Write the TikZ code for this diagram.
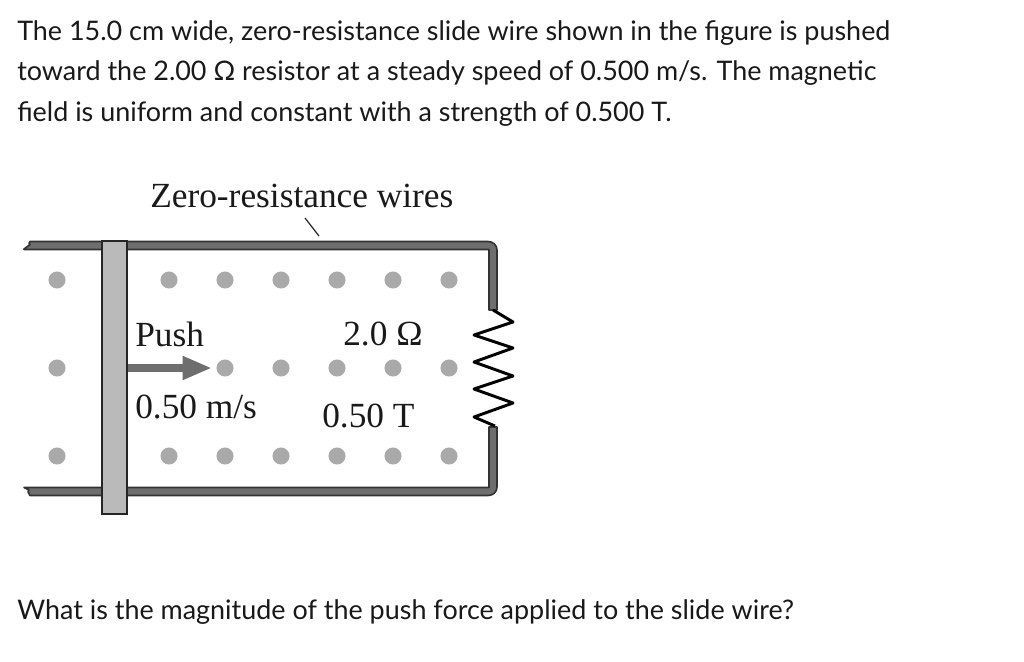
\documentclass[tikz,border=0pt]{standalone}
\usepackage{fontspec}
\setmainfont{Lato}
\newfontfamily\figfont{Liberation Serif}
\usetikzlibrary{arrows.meta}
\definecolor{wiregray}{HTML}{6E6E6E}
\definecolor{slidegray}{HTML}{BABABA}
\definecolor{dotgray}{HTML}{A9A9A9}
\tikzset{
  % Question text
  qtext/.style={anchor=base west, inner sep=0pt, font=\fontsize{20.2}{24}\selectfont, text=black!90},
  % Label in the figure
  flabel/.style={anchor=base west, inner sep=0pt, font=\figfont\fontsize{26.5}{30}\selectfont, text=black!90},
  % Field dots
  fdot/.style={circle, fill=dotgray, minimum size=12.8pt, inner sep=0pt},
  % Rails
  rail/.style={draw=black!80, fill=wiregray, line width=1.2pt, line join=round},
  % Slide wire
  slider/.style={draw=black!85, fill=slidegray, line width=0.9pt, minimum width=18.75pt, minimum height=204.75pt, inner sep=0pt},
  % Push arrow
  pusharrow/.style={draw=wiregray, line width=6pt, -{Triangle[length=22pt, width=16.5pt]}},
  % Resistor
  zigzag/.style={draw=black, line width=2.2pt, line join=round},
}
\begin{document}
\begin{tikzpicture}[x=0.75pt, y=-0.75pt]
  \useasboundingbox (0,0) rectangle (1024,661);

  \node[qtext] (line1) at (17,40) {The 15.0 cm wide, zero-resistance slide wire shown in the figure is pushed};
  \node[qtext] (line2) at (17,80) {toward the 2.00 Ω resistor at a steady speed of 0.500 m/s. The magnetic};
  \node[qtext] (line3) at (17,121) {field is uniform and constant with a strength of 0.500 T.};
  \node[qtext] (question) at (17,619) {What is the magnitude of the push force applied to the slide wire?};

  % rails
  \draw[rail] (30,241.5) -- (29,243.5) -- (30,244.5) -- (24,249) -- (24,249.5)
    -- (489,249.5) -- (489,310) -- (497,310) -- (497,250)
    .. controls (497,245) and (493,241.5) .. (488,241.5) -- cycle;
  \draw[rail] (24,487.5) -- (29,490) -- (28,492) -- (30,495.5)
    -- (488,495.5) .. controls (493,495.5) and (497,492) .. (497,487)
    -- (497,427) -- (489,427) -- (489,487.5) -- cycle;

  % resistor
  \coordinate (rtop) at (493,310);
  \coordinate (rbot) at (495,426);
  \draw[zigzag] (rtop) -- (513,322) -- (474,335) -- (513,348) -- (474,362) -- (513,376)
    -- (474,389) -- (513,403) -- (474,417) -- (rbot);

  % field
  \foreach \i/\px in {0/57,1/169,2/225,3/281,4/337,5/393,6/449}
    \foreach \j/\py in {0/280,2/456}
      \node[fdot] (dot\i\j) at (\px,\py) {};
  \foreach \i/\px in {0/57,2/225,3/281,4/337,5/393,6/449}
    \node[fdot] (dot\i1) at (\px,368) {};

  % slide wire and push
  \node[slider] (slide) at (114.5,377.5) {};
  \coordinate (pushtip) at (212,368);
  \draw[pusharrow] (slide.east |- pushtip) -- (pushtip);

  \node[flabel] (wires) at (150,207) {Zero-resistance wires};
  \coordinate (wstart) at (305,218);
  \coordinate (wend) at (319,236);
  \draw[line width=0.9pt, black!85] (wstart) -- (wend);

  \node[flabel] (push) at (135,346) {Push};
  \node[flabel] (speed) at (135,418) {0.50 m/s};
  \node[flabel] (res) at (343,345) {2.0 Ω};
  \node[flabel] (field) at (322,427) {0.50 T};
\end{tikzpicture}
\end{document}
